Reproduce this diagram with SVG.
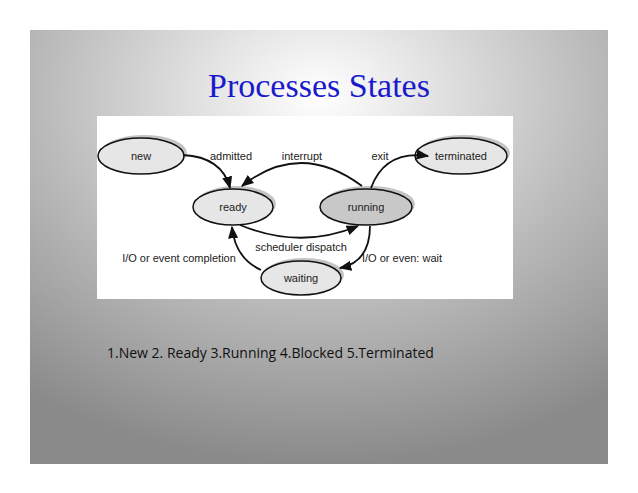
<svg xmlns="http://www.w3.org/2000/svg" width="638" height="493" viewBox="0 0 638 493">
<defs>
<radialGradient id="bg" cx="0.5" cy="0.15" r="0.85">
<stop offset="0" stop-color="#ffffff"/><stop offset="0.55" stop-color="#bcbcbc"/><stop offset="1" stop-color="#8a8a8a"/>
</radialGradient>
<marker id="ah" viewBox="0 0 10 10" refX="9" refY="5" markerWidth="7" markerHeight="7" orient="auto"><path d="M0,1 L10,5 L0,9 z" fill="#111"/></marker>
<style>
.n{fill:#e6e6e6;stroke:#111;stroke-width:1.5}
.s{fill:#c4c4c4}
.t{font-family:"Liberation Sans",Arial,sans-serif;font-size:11px;fill:#222;text-anchor:middle}
.c{fill:none;stroke:#111;stroke-width:1.8;marker-end:url(#ah)}
</style>
</defs>
<rect x="30" y="30" width="578" height="434" fill="url(#bg)"/>
<text x="319" y="97" font-family="Liberation Serif,serif" font-size="34" fill="#1a1acc" text-anchor="middle">Processes States</text>
<rect x="97" y="116" width="416" height="183" fill="#fff"/>
<g id="new"><ellipse class="s" cx="144" cy="153" rx="43" ry="18"/><ellipse class="n" cx="141" cy="156" rx="43" ry="18"/><text class="t" x="141" y="160">new</text></g>
<g id="ready"><ellipse class="s" cx="236" cy="204" rx="40" ry="18"/><ellipse class="n" cx="233" cy="207" rx="40" ry="18"/><text class="t" x="233" y="211">ready</text></g>
<g id="running"><ellipse class="s" cx="369" cy="204" rx="46" ry="18"/><ellipse class="n" cx="366" cy="207" rx="46" ry="18" style="fill:#c8c8c8"/><text class="t" x="366" y="211">running</text></g>
<g id="terminated"><ellipse class="s" cx="464" cy="153" rx="46" ry="18"/><ellipse class="n" cx="461" cy="156" rx="46" ry="18"/><text class="t" x="461" y="160">terminated</text></g>
<g id="waiting"><ellipse class="s" cx="304" cy="275" rx="40" ry="17"/><ellipse class="n" cx="301" cy="278" rx="40" ry="17"/><text class="t" x="301" y="282">waiting</text></g>
<g id="connectors">
<path class="c" d="M183,155 Q222,157 230,188"/>
<path class="c" d="M362,186 Q300,140 242,186"/>
<path class="c" d="M371,188 Q385,150 428,156"/>
<path class="c" d="M240,225 Q300,250 358,226"/>
<path class="c" d="M370,226 Q370,262 340,268"/>
<path class="c" d="M261,270 Q235,258 232,227"/>
<text class="t" x="231" y="160">admitted</text>
<text class="t" x="302" y="160">interrupt</text>
<text class="t" x="380" y="160">exit</text>
<text class="t" x="301" y="251">scheduler dispatch</text>
<text class="t" x="179" y="262">I/O or event completion</text>
<text class="t" x="402" y="262">I/O or even: wait</text>
</g>
<text x="107" y="358" font-family="Open Sans,Liberation Sans,sans-serif" font-size="14" fill="#111">1.New 2. Ready 3.Running 4.Blocked 5.Terminated</text>
</svg>
